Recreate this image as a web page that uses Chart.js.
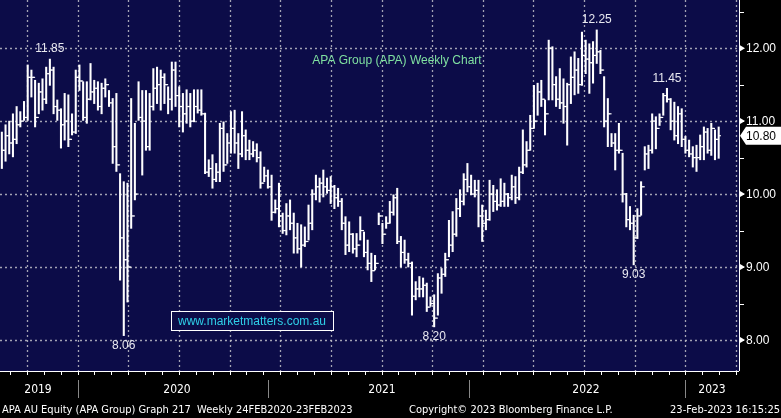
<!DOCTYPE html>
<html>
<head>
<meta charset="utf-8">
<script src="https://cdn.jsdelivr.net/npm/chart.js@4.4.0/dist/chart.umd.min.js"></script>
<style>
  html, body { margin: 0; padding: 0; background: #000; }
  #wrap { width: 781px; height: 418px; position: relative; }
</style>
</head>
<body>
<div id="wrap"><canvas id="c" width="781" height="418"></canvas></div>
<script>
// --- weekly bars (AUD) ---
const highs = [
  10.85,10.95,11.00,11.10,11.20,11.13,11.27,11.77,11.70,11.56,11.52,11.58,11.74,11.85,11.74,11.29,11.17,11.38,11.36,11.10,
  11.70,11.77,11.54,11.54,11.79,11.56,11.54,11.52,11.58,11.42,11.31,11.38,10.28,10.17,10.15,11.31,10.97,11.54,11.42,11.42,
  11.38,11.72,11.74,11.70,11.65,11.47,11.81,11.81,11.47,11.38,
  11.43,11.38,11.43,11.43,11.43,11.11,10.47,10.54,10.42,10.97,10.99,10.83,11.13,11.15,10.83,11.13,10.88,10.74,10.72,10.69,
  10.58,10.37,10.33,10.26,9.92,10.15,9.74,9.87,9.92,9.74,9.60,9.58,9.55,9.85,10.06,10.26,10.22,10.33,10.22,10.24,
  10.12,10.08,9.94,9.69,9.62,9.46,9.46,9.69,9.48,9.37,9.19,9.16,
  9.74,9.60,9.69,9.90,9.99,10.08,9.42,9.37,9.19,9.07,8.80,8.87,8.85,8.78,8.59,8.62,8.91,8.98,9.19,9.64,
  9.76,9.94,10.06,10.28,10.42,10.26,10.19,10.19,9.85,9.78,10.19,10.12,10.06,10.21,10.15,10.01,10.26,
  10.24,10.37,10.88,10.72,11.08,11.49,11.52,11.56,11.29,12.11,12.02,11.61,11.72,11.58,11.52,11.88,11.95,11.86,12.22,12.11,
  12.06,12.09,12.25,11.97,11.61,11.31,10.83,10.83,10.97,10.56,10.01,9.83,9.71,9.80,10.17,10.65,10.67,11.10,11.06,11.10,
  11.38,11.45,11.31,11.26,11.20,11.17,10.79,10.74,10.65,10.67,10.81,10.92,10.90,10.97,10.88,10.92
];
const lows = [
  10.35,10.45,10.55,10.51,10.69,10.92,11.01,11.01,11.33,10.92,11.10,11.15,11.24,11.49,11.10,11.01,10.63,10.74,10.65,10.81,
  10.83,11.42,11.01,10.97,11.29,11.24,11.15,11.10,11.33,11.20,10.42,10.31,8.82,8.06,8.52,9.53,9.92,11.01,10.26,10.60,
  10.60,11.15,11.24,11.15,11.24,11.10,11.15,11.20,10.92,10.85,
  10.97,10.92,10.99,11.11,11.08,10.28,10.24,10.08,10.17,10.17,10.31,10.42,10.56,10.56,10.35,10.51,10.47,10.47,10.51,10.44,
  10.08,10.17,10.08,9.64,9.74,9.55,9.46,9.44,9.51,9.19,9.19,9.00,9.28,9.37,9.51,9.92,9.89,9.96,10.01,9.87,
  9.80,9.83,9.51,9.17,9.21,9.19,9.14,9.37,9.14,8.96,8.80,8.96,
  9.58,9.32,9.53,9.60,9.71,9.32,9.00,9.05,9.00,8.34,8.55,8.59,8.59,8.39,8.46,8.18,8.34,8.64,8.87,9.14,
  9.21,9.42,9.69,9.85,10.03,9.99,9.96,9.55,9.35,9.51,9.64,9.76,9.78,9.83,9.83,9.83,9.92,
  9.87,9.92,10.28,10.37,10.60,10.90,11.08,11.20,10.81,11.29,11.29,11.20,11.17,10.97,10.67,11.24,11.36,11.38,11.49,11.65,
  11.38,11.52,11.79,11.65,10.92,10.65,10.65,10.33,10.56,9.89,9.55,9.51,9.03,9.39,9.71,10.33,10.35,10.56,10.62,10.94,
  11.08,11.26,10.88,10.74,10.69,10.65,10.56,10.51,10.37,10.31,10.47,10.47,10.56,10.53,10.47,10.49
];
const closes = [
  10.60,10.80,10.70,10.75,10.95,11.00,11.05,11.60,11.60,11.05,11.40,11.30,11.65,11.70,11.20,11.15,10.95,11.00,10.75,10.85,
  11.60,11.55,11.05,11.30,11.40,11.45,11.20,11.45,11.50,11.25,10.65,10.40,9.40,9.10,9.00,9.70,10.00,11.05,11.00,10.65,
  11.20,11.45,11.50,11.60,11.50,11.30,11.70,11.35,11.20,11.10,
  11.20,11.00,11.20,11.15,11.10,10.30,10.35,10.20,10.30,10.90,10.40,10.70,10.90,10.70,10.55,10.80,10.60,10.55,10.60,10.50,
  10.15,10.25,10.10,9.75,9.80,9.70,9.50,9.70,9.60,9.40,9.25,9.30,9.35,9.60,10.00,10.10,10.15,10.10,10.05,10.10,
  9.95,9.90,9.60,9.30,9.45,9.25,9.30,9.50,9.20,9.05,8.95,9.05,
  9.70,9.45,9.60,9.75,9.95,9.35,9.20,9.10,9.05,8.60,8.70,8.70,8.75,8.45,8.50,8.30,8.85,8.90,9.10,9.30,
  9.45,9.80,9.90,10.20,10.10,10.00,10.05,9.70,9.60,9.65,10.00,9.90,9.85,9.90,10.00,9.95,10.10,
  9.95,10.30,10.40,10.60,10.90,11.00,11.40,11.30,11.10,12.00,11.50,11.30,11.25,11.20,11.50,11.60,11.70,11.50,11.90,11.85,
  11.80,11.90,11.95,11.70,11.00,11.10,10.70,10.60,10.60,10.00,9.65,9.60,9.40,9.70,10.10,10.55,10.60,11.00,10.90,11.05,
  11.35,11.30,11.00,10.80,11.10,10.75,10.60,10.55,10.50,10.50,10.65,10.85,10.60,10.90,10.75,10.80
];
// index of first bar of each calendar year, and the year labels
const yearStarts = [21, 72.5, 127, 185.5];
const yearLabels = ['2019', '2020', '2021', '2022', '2023'];
const priceTicks = [8, 9, 10, 11, 12];
const minorTicks = [7.5, 8.5, 9.5, 10.5, 11.5, 12.5];
// text notes on highs / lows
const notes = [
  { i: 13, v: 11.85, text: '11.85', above: true },
  { i: 33, v: 8.06, text: '8.06', above: false },
  { i: 117, v: 8.18, text: '8.20', above: false },
  { i: 161, v: 12.25, text: '12.25', above: true },
  { i: 180, v: 11.45, text: '11.45', above: true },
  { i: 171, v: 9.03, text: '9.03', above: false }
];
const lastPrice = 10.80;

const ranges = highs.map((h, i) => ({ x: i, y: [lows[i], h] }));

const PLOT_BG = '#0c0c48';
const GRID = 'rgba(190,190,200,0.85)';

const bloombergPlugin = {
  id: 'bloomberg',
  beforeDraw(chart) {
    const { ctx, chartArea: a } = chart;
    const xs = chart.scales.x, ys = chart.scales.y;
    ctx.save();
    ctx.fillStyle = '#000';
    ctx.fillRect(0, 0, chart.width, chart.height);
    ctx.fillStyle = PLOT_BG;
    ctx.fillRect(a.left, a.top, a.right - a.left, a.bottom - a.top);
    ctx.strokeStyle = GRID;
    ctx.setLineDash([2, 3]);
    ctx.lineWidth = 1.3;
    // quarterly vertical dotted lines
    const step = (yearStarts[3] - yearStarts[0]) / 12;
    for (let k = -2; k <= 13; k++) {
      const px = Math.round(xs.getPixelForValue(yearStarts[0] + k * step - 0.5)) + 0.5;
      if (px <= a.left || px >= a.right) continue;
      ctx.beginPath(); ctx.moveTo(px, a.top); ctx.lineTo(px, a.bottom); ctx.stroke();
    }
    // horizontal dotted lines
    priceTicks.forEach(v => {
      const py = Math.round(ys.getPixelForValue(v)) + 0.5;
      ctx.beginPath(); ctx.moveTo(a.left, py); ctx.lineTo(a.right, py); ctx.stroke();
    });
    ctx.restore();
  },
  afterDatasetsDraw(chart) {
    const { ctx, chartArea: a } = chart;
    const xs = chart.scales.x, ys = chart.scales.y;
    ctx.save();
    ctx.strokeStyle = '#fff';
    ctx.lineWidth = 1.2;
    // open / close ticks
    closes.forEach((c, i) => {
      const px = xs.getPixelForValue(i);
      if (i > 0) {
        const po = ys.getPixelForValue(closes[i - 1]);
        ctx.beginPath(); ctx.moveTo(px - 2.2, po); ctx.lineTo(px, po); ctx.stroke();
      }
      const pc = ys.getPixelForValue(c);
      ctx.beginPath(); ctx.moveTo(px, pc); ctx.lineTo(px + 2.2, pc); ctx.stroke();
    });
    // notes
    ctx.fillStyle = '#e8e8f0';
    ctx.font = '12px "Liberation Sans", Arial, sans-serif';
    ctx.textAlign = 'center';
    notes.forEach(n => {
      const px = xs.getPixelForValue(n.i);
      const py = ys.getPixelForValue(n.v);
      ctx.textBaseline = n.above ? 'bottom' : 'top';
      ctx.fillText(n.text, px, n.above ? py - 4 : py + 4);
    });
    // title
    ctx.fillStyle = '#7fe0a0';
    ctx.textBaseline = 'middle';
    ctx.fillText('APA Group (APA) Weekly Chart', 397, 61);
    // watermark box
    ctx.strokeStyle = '#fff';
    ctx.lineWidth = 1;
    ctx.fillStyle = PLOT_BG;
    ctx.fillRect(171.5, 311.5, 162, 19);
    ctx.strokeRect(171.5, 311.5, 162, 19);
    ctx.fillStyle = '#2fd0e8';
    ctx.fillText('www.marketmatters.com.au', 252, 321.5);

    // bottom band: ticks, years, separators, footer
    ctx.strokeStyle = '#fff';
    ctx.beginPath(); ctx.moveTo(0, a.bottom + 0.5); ctx.lineTo(a.right, a.bottom + 0.5); ctx.stroke();
    const step = (yearStarts[3] - yearStarts[0]) / 36;
    for (let k = -7; k <= 40; k++) {
      const px = Math.round(xs.getPixelForValue(yearStarts[0] + k * step - 0.5)) + 0.5;
      if (px < a.left || px > a.right) continue;
      ctx.beginPath(); ctx.moveTo(px, a.bottom); ctx.lineTo(px, a.bottom + 4); ctx.stroke();
    }
    ctx.strokeStyle = '#888';
    yearStarts.forEach(s => {
      const px = Math.round(xs.getPixelForValue(s - 0.5)) + 0.5;
      ctx.beginPath(); ctx.moveTo(px, a.bottom + 9); ctx.lineTo(px, a.bottom + 27); ctx.stroke();
    });
    ctx.fillStyle = '#fff';
    ctx.font = '12px "DejaVu Sans Condensed", "Liberation Sans Narrow", sans-serif';
    const labelPos = [38, 177, 382, 586, 712];
    yearLabels.forEach((y, k) => ctx.fillText(y, labelPos[k], a.bottom + 19));
    ctx.font = '11px "DejaVu Sans Condensed", "Liberation Sans Narrow", sans-serif';
    ctx.textAlign = 'left';
    ctx.fillText('APA AU Equity (APA Group) Graph 217  Weekly 24FEB2020-23FEB2023', 2, 410);
    ctx.fillText('Copyright\u00a9 2023 Bloomberg Finance L.P.', 409, 410);
    ctx.textAlign = 'right';
    ctx.fillText('23-Feb-2023 16:15:25', 780, 410);

    // right axis: line, ticks, labels
    ctx.strokeStyle = '#fff';
    ctx.beginPath(); ctx.moveTo(a.right + 0.5, 0); ctx.lineTo(a.right + 0.5, a.bottom); ctx.stroke();
    minorTicks.concat(priceTicks).forEach(v => {
      const py = Math.round(ys.getPixelForValue(v)) + 0.5;
      if (py < a.top || py > a.bottom) return;
      ctx.beginPath(); ctx.moveTo(a.right, py); ctx.lineTo(a.right + 5, py); ctx.stroke();
    });
    ctx.font = '12px "Liberation Sans", Arial, sans-serif';
    ctx.textAlign = 'left';
    ctx.textBaseline = 'middle';
    priceTicks.forEach(v => {
      const py = ys.getPixelForValue(v);
      ctx.fillStyle = '#fff';
      ctx.beginPath();
      ctx.moveTo(a.right + 1, py - 3); ctx.lineTo(a.right + 6, py); ctx.lineTo(a.right + 1, py + 3);
      ctx.closePath(); ctx.fill();
      ctx.fillText(v.toFixed(2), a.right + 7, py + 1);
    });
    // last price flag
    const py = ys.getPixelForValue(lastPrice);
    ctx.fillStyle = '#fff';
    ctx.beginPath();
    ctx.moveTo(a.right + 1, py);
    ctx.lineTo(a.right + 7, py - 9);
    ctx.lineTo(781, py - 9);
    ctx.lineTo(781, py + 9);
    ctx.lineTo(a.right + 7, py + 9);
    ctx.closePath();
    ctx.fill();
    ctx.fillStyle = '#000';
    ctx.fillText(lastPrice.toFixed(2), a.right + 7, py + 1);
    ctx.restore();
  }
};

new Chart(document.getElementById('c'), {
  type: 'bar',
  data: {
    datasets: [{
      data: ranges,
      backgroundColor: '#ffffff',
      barThickness: 1.4,
      grouped: false
    }]
  },
  options: {
    responsive: false,
    animation: false,
    events: [],
    layout: { padding: { bottom: 47, left: 0, right: 42, top: 0 } },
    plugins: { legend: { display: false }, tooltip: { enabled: false } },
    scales: {
      x: { type: 'linear', display: false, min: -0.5, max: highs.length + 4.5, offset: false },
      y: { display: false, min: 7.575, max: 12.66 }
    }
  },
  plugins: [bloombergPlugin]
});
</script>
</body>
</html>
